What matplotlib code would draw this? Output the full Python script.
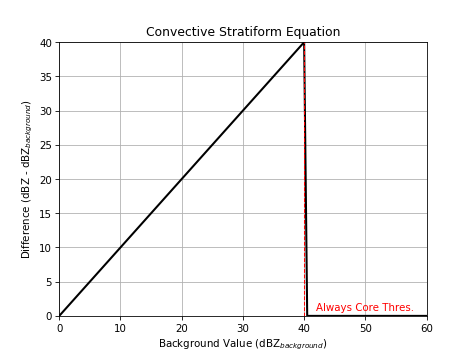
import matplotlib
matplotlib.use("Agg")
import matplotlib.pyplot as plt

bg_values = [0, 40, 40.5, 60]
differences = [0, 40, 0, 0]
core_thres = 40
label_text = "Always Core Thres."

fig, ax = plt.subplots(figsize=(6.4, 4.8), dpi=74.06)
ax.plot(bg_values, differences, color="black", linewidth=2)
ax.axvline(core_thres, color="red", linestyle="--", linewidth=1)
ax.text(42, 0.8, label_text, color="red")
ax.set_xlim(0, 60)
ax.set_ylim(0, 40)
ax.grid(True)
ax.set_title("Convective Stratiform Equation")
ax.set_xlabel("Background Value (dBZ$_{background}$)")
ax.set_ylabel("Difference (dBZ - dBZ$_{background}$)")
fig.savefig("out.png", dpi=74.06)
